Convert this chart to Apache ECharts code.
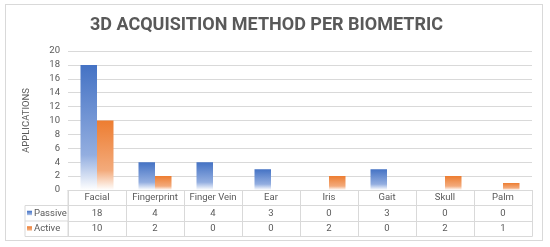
<!DOCTYPE html>
<html>
<head>
<meta charset="utf-8">
<script src="https://cdn.jsdelivr.net/npm/echarts@6/dist/echarts.min.js"></script>
<style>
html,body{margin:0;padding:0;background:#fff;}
#frame{position:absolute;left:5px;top:4px;width:538px;height:237px;border:1px solid #d9d9d9;box-sizing:border-box;}
#chart{position:absolute;left:0;top:0;width:550px;height:247px;}
</style>
</head>
<body>
<div id="frame"></div>
<div id="chart"></div>
<script>
const categories = ['Facial','Fingerprint','Finger Vein','Ear','Iris','Gait','Skull','Palm'];
const passive = [18,4,4,3,0,3,0,0];
const active = [10,2,0,0,2,0,2,1];
const yTicks = {min:0, max:20, interval:2};

const FONT = 'Roboto';
const TXT = '#595959';
const LINE = '#d9d9d9';
const G = {left:68, right:18, top:51, bottom:57};
const ROW = 15.5;

function grad(c1, c2){
  return new echarts.graphic.LinearGradient(0,0,0,1,[
    {offset:0, color:c1},
    {offset:0.72, color:c2},
    {offset:1, color:'#ffffff'}
  ]);
}

const chart = echarts.init(document.getElementById('chart'), null, {renderer:'canvas'});

function tableAxis(offset, values, showTicks, showLabels){
  return {
    type:'category', data:categories, position:'bottom', offset:offset, gridIndex:0,
    axisLine:{show:true, lineStyle:{color:LINE, width:1}},
    axisTick:{show:showTicks, length:ROW, lineStyle:{color:LINE}},
    axisLabel:{show:showLabels, color:TXT, fontFamily:FONT, fontSize:9.5, margin:3, interval:0,
      formatter:function(v, i){ return values ? String(values[i]) : v; }},
    splitLine:{show:false}
  };
}

const y0 = 247 - G.bottom;

const option = {
  animation:false,
  title:{
    text:'3D ACQUISITION METHOD PER BIOMETRIC', left:85, top:11,
    textStyle:{fontFamily:FONT, fontWeight:'bold', fontSize:18, color:TXT}
  },
  legend:{
    data:['Passive','Active'], orient:'vertical', left:27, top:y0 + ROW,
    itemWidth:5, itemHeight:5, itemGap:0, icon:'rect', padding:0,
    textStyle:{fontFamily:FONT, fontSize:9.5, color:TXT, lineHeight:ROW, height:ROW, padding:[0,0,0,-3]}
  },
  grid:{left:G.left, right:G.right, top:G.top, bottom:G.bottom},
  xAxis:[
    tableAxis(0, null, true, true),
    tableAxis(ROW, passive, true, true),
    tableAxis(ROW*2, active, true, true),
    tableAxis(ROW*3, null, false, false)
  ],
  yAxis:{
    type:'value', min:yTicks.min, max:yTicks.max, interval:yTicks.interval,
    name:'APPLICATIONS', nameLocation:'middle', nameRotate:90, nameGap:36,
    nameTextStyle:{fontFamily:FONT, fontSize:9.5, color:TXT},
    axisLine:{show:false}, axisTick:{show:false},
    axisLabel:{color:TXT, fontFamily:FONT, fontSize:9.5, margin:8},
    splitLine:{lineStyle:{color:LINE, width:1}}
  },
  series:[
    {name:'Passive', type:'bar', data:passive, barWidth:16.5, barGap:'0%', xAxisIndex:0,
     itemStyle:{color:grad('#4472C4','#93aee0')}},
    {name:'Active', type:'bar', data:active, barWidth:16.5, barGap:'0%', xAxisIndex:0,
     itemStyle:{color:grad('#ED7D31','#f3ab7c')}}
  ]
};
chart.setOption(option);

// legend column lines of the data table
const xL = 25;
const lines = [];
for (let r = 1; r <= 3; r++) {
  lines.push({type:'line', silent:true, shape:{x1:xL, y1:y0+ROW*r, x2:G.left, y2:y0+ROW*r}, style:{stroke:LINE, lineWidth:1}});
}
lines.push({type:'line', silent:true, shape:{x1:xL, y1:y0+ROW, x2:xL, y2:y0+ROW*3}, style:{stroke:LINE, lineWidth:1}});
lines.push({type:'line', silent:true, shape:{x1:G.left, y1:y0, x2:G.left, y2:y0+ROW*3}, style:{stroke:LINE, lineWidth:1}});
chart.setOption({graphic:lines});
</script>
</body>
</html>
